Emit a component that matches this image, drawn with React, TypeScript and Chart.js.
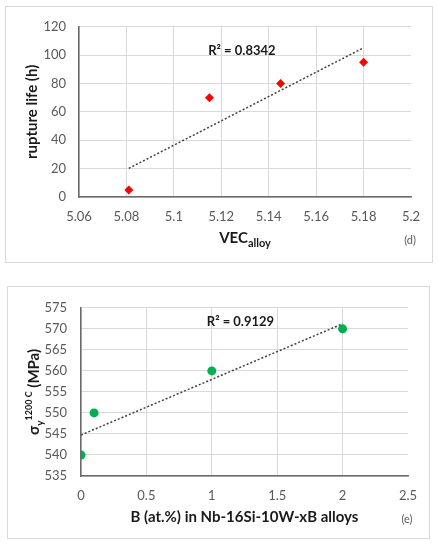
import React, { useEffect, useRef } from 'react';
import { Chart, registerables } from 'chart.js';

Chart.register(...registerables);

// ---------- Chart (d) data ----------
const vecAlloy = [5.081, 5.115, 5.145, 5.18];
const ruptureLife = [5, 70, 80, 95];
const trendVecX = [5.081, 5.18];
const trendVecY = [20.2, 105.2];
const r2TextD = 'R² = 0.8342';
const r2PosD = [5.1287, 103];
const xTickLabelsD = ['5.06', '5.08', '5.1', '5.12', '5.14', '5.16', '5.18', '5.2'];
const yTickLabelsD = ['0', '20', '40', '60', '80', '100', '120'];

// ---------- Chart (e) data ----------
const boronAt = [0, 0.1, 1, 2];
const yieldStress = [540, 550, 560, 570];
const trendBX = [0, 2];
const trendBY = [544.75, 571.2];
const r2TextE = 'R² = 0.9129';
const r2PosE = [1.219, 571.6];
const xTickLabelsE = ['0', '0.5', '1', '1.5', '2', '2.5'];
const yTickLabelsE = ['535', '540', '545', '550', '555', '560', '565', '570', '575'];

const FONT = "Lato, 'DejaVu Sans', sans-serif";
const TICK_COLOR = '#595959';
const GRID_COLOR = '#d9d9d9';
const AXIS_COLOR = '#6b6b6b';
const TITLE_COLOR = '#1a1a1a';

type Piece = { text: string; size: number; shift: number };

function drawPieces(
  ctx: CanvasRenderingContext2D,
  pieces: Piece[],
  cx: number,
  cy: number,
  rotate: boolean,
  mainSize: number
) {
  ctx.save();
  ctx.translate(cx, cy);
  if (rotate) ctx.rotate(-Math.PI / 2);
  ctx.textAlign = 'left';
  ctx.textBaseline = 'alphabetic';
  ctx.fillStyle = TITLE_COLOR;
  const widths = pieces.map((p) => {
    ctx.font = `bold ${p.size}px ${FONT}`;
    return ctx.measureText(p.text).width;
  });
  const total = widths.reduce((a, b) => a + b, 0);
  let x = -total / 2;
  const base = mainSize * 0.36;
  pieces.forEach((p, i) => {
    ctx.font = `bold ${p.size}px ${FONT}`;
    ctx.fillText(p.text, x, base + p.shift);
    x += widths[i];
  });
  ctx.restore();
}

type Cfg = {
  points: { x: number; y: number }[];
  trend: { x: number; y: number }[];
  pointStyle: string;
  pointColor: string;
  xMin: number;
  xMax: number;
  xStep: number;
  yMin: number;
  yMax: number;
  yStep: number;
  xLabels: string[];
  yLabels: string[];
  r2Text: string;
  r2Pos: number[];
  xTitle: Piece[];
  xTitleSize: number;
  yTitle: Piece[];
  yTitleSize: number;
  panel: string;
  padTop: number;
  yWidth: number;
  xHeight: number;
  yTickPad: number;
};

function makeChart(canvas: HTMLCanvasElement, c: Cfg) {
  const textPlugin = {
    id: 'texts',
    afterDraw(chart: any) {
      const ctx: CanvasRenderingContext2D = chart.ctx;
      const area = chart.chartArea;
      const xs = chart.scales.x;
      const ys = chart.scales.y;
      // R² label
      ctx.save();
      ctx.font = `bold 13px ${FONT}`;
      ctx.fillStyle = TITLE_COLOR;
      ctx.textAlign = 'center';
      ctx.textBaseline = 'middle';
      ctx.fillText(c.r2Text, xs.getPixelForValue(c.r2Pos[0]), ys.getPixelForValue(c.r2Pos[1]));
      // panel label
      ctx.font = `11px ${FONT}`;
      ctx.fillStyle = TICK_COLOR;
      ctx.fillText(c.panel, area.right - 1, area.bottom + 43);
      ctx.restore();
      // axis titles
      drawPieces(ctx, c.xTitle, (area.left + area.right) / 2, area.bottom + 41, false, c.xTitleSize);
      drawPieces(ctx, c.yTitle, area.left - 47, (area.top + area.bottom) / 2, true, c.yTitleSize);
    },
  };

  return new Chart(canvas, {
    type: 'scatter',
    data: {
      datasets: [
        {
          data: c.points,
          pointStyle: c.pointStyle as any,
          pointRadius: 4.5,
          pointHoverRadius: 4.5,
          backgroundColor: c.pointColor,
          borderColor: c.pointColor,
          borderWidth: 0,
          showLine: false,
        },
        {
          data: c.trend,
          showLine: true,
          pointRadius: 0,
          borderColor: '#404040',
          borderWidth: 1.5,
          borderDash: [2, 2],
          fill: false,
        },
      ],
    },
    options: {
      animation: false,
      responsive: false,
      events: [],
      layout: { padding: { left: 0, right: 22, top: c.padTop, bottom: 0 } },
      plugins: { legend: { display: false }, tooltip: { enabled: false } },
      scales: {
        x: {
          type: 'linear',
          min: c.xMin,
          max: c.xMax,
          ticks: {
            stepSize: c.xStep,
            color: TICK_COLOR,
            font: { family: FONT, size: 13 },
            padding: 12,
            maxRotation: 0,
            autoSkip: false,
            callback: (_v: any, i: number) => c.xLabels[i],
          },
          grid: {
            drawTicks: false,
            color: (ctx: any) => (ctx.index === c.xLabels.length - 1 ? 'rgba(0,0,0,0)' : GRID_COLOR),
            lineWidth: 1,
          },
          border: { color: AXIS_COLOR, width: 1.5 },
          afterFit: (s: any) => {
            s.height = c.xHeight;
          },
        },
        y: {
          type: 'linear',
          min: c.yMin,
          max: c.yMax,
          ticks: {
            stepSize: c.yStep,
            color: TICK_COLOR,
            font: { family: FONT, size: 13 },
            padding: c.yTickPad,
            autoSkip: false,
            callback: (_v: any, i: number) => c.yLabels[i],
          },
          grid: { drawTicks: false, color: GRID_COLOR, lineWidth: 1 },
          border: { color: AXIS_COLOR, width: 1.5 },
          afterFit: (s: any) => {
            s.width = c.yWidth;
          },
        },
      },
    },
    plugins: [textPlugin],
  } as any);
}

function Panel(props: {
  left: number;
  top: number;
  width: number;
  height: number;
  cfg: Cfg;
}) {
  const ref = useRef<HTMLCanvasElement | null>(null);
  useEffect(() => {
    if (!ref.current) return;
    const ch = makeChart(ref.current, props.cfg);
    return () => ch.destroy();
  }, []);
  const { left, top, width, height } = props;
  return (
    <>
      <div
        style={{
          position: 'absolute',
          left,
          top,
          width,
          height,
          boxSizing: 'border-box',
          border: '1px solid #d9d9d9',
          background: '#ffffff',
        }}
      />
      <canvas
        ref={ref}
        width={width}
        height={height}
        style={{ position: 'absolute', left, top, width, height }}
      />
    </>
  );
}

const cfgD: Cfg = {
  points: vecAlloy.map((x, i) => ({ x, y: ruptureLife[i] })),
  trend: trendVecX.map((x, i) => ({ x, y: trendVecY[i] })),
  pointStyle: 'rectRot',
  pointColor: '#ff0000',
  xMin: 5.06,
  xMax: 5.2,
  xStep: 0.02,
  yMin: 0,
  yMax: 120,
  yStep: 20,
  xLabels: xTickLabelsD,
  yLabels: yTickLabelsD,
  r2Text: r2TextD,
  r2Pos: r2PosD,
  xTitle: [
    { text: 'VEC', size: 15, shift: 0 },
    { text: 'alloy', size: 11, shift: 4 },
  ],
  xTitleSize: 15,
  yTitle: [{ text: 'rupture life (h)', size: 15, shift: 0 }],
  yTitleSize: 15,
  panel: '(d)',
  padTop: 15,
  yWidth: 74,
  xHeight: 66,
  yTickPad: 13,
};

const cfgE: Cfg = {
  points: boronAt.map((x, i) => ({ x, y: yieldStress[i] })),
  trend: trendBX.map((x, i) => ({ x, y: trendBY[i] })),
  pointStyle: 'circle',
  pointColor: '#00b050',
  xMin: 0,
  xMax: 2.5,
  xStep: 0.5,
  yMin: 535,
  yMax: 575,
  yStep: 5,
  xLabels: xTickLabelsE,
  yLabels: yTickLabelsE,
  r2Text: r2TextE,
  r2Pos: r2PosE,
  xTitle: [{ text: 'B (at.%) in Nb-16Si-10W-xB alloys', size: 15, shift: 0 }],
  xTitleSize: 15,
  yTitle: [
    { text: 'σ', size: 15, shift: 0 },
    { text: 'y', size: 10, shift: 4 },
    { text: '1200 C', size: 9, shift: -7 },
    { text: ' (MPa)', size: 15, shift: 0 },
  ],
  yTitleSize: 15,
  panel: '(e)',
  padTop: 16,
  yWidth: 74,
  xHeight: 63,
  yTickPad: 14,
};

export default function App() {
  return (
    <div
      style={{
        position: 'absolute',
        left: 0,
        top: 0,
        width: 439,
        height: 550,
        background: '#ffffff',
        overflow: 'hidden',
      }}
    >
      <Panel left={5} top={6} width={428} height={257} cfg={cfgD} />
      <Panel left={7} top={286} width={423} height={253} cfg={cfgE} />
    </div>
  );
}
